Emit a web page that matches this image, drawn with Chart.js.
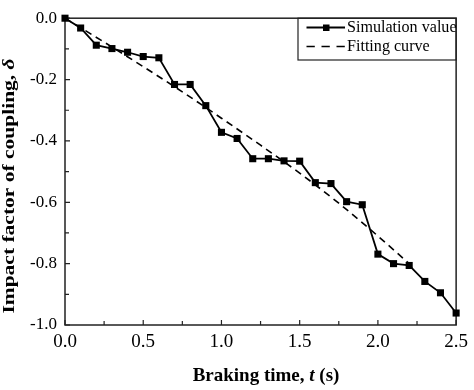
<!DOCTYPE html>
<html>
<head>
<meta charset="utf-8">
<script src="https://cdn.jsdelivr.net/npm/chart.js@4.4.0/dist/chart.umd.min.js"></script>
<style>
  html, body { margin: 0; padding: 0; background: #fff; }
  #wrap { width: 474px; height: 390px; }
</style>
</head>
<body>
<div id="wrap"><canvas id="chart"></canvas></div>
<script>
// braking time (s) and simulated impact factor
var brakingTime = [0, 0.1, 0.2, 0.3, 0.4, 0.5, 0.6, 0.7, 0.8, 0.9, 1.0, 1.1, 1.2,
                   1.3, 1.4, 1.5, 1.6, 1.7, 1.8, 1.9, 2.0, 2.1, 2.2, 2.3, 2.4, 2.5];
var simulationValue = [0, -0.032, -0.088, -0.099, -0.111, -0.125, -0.129, -0.216, -0.216,
                       -0.285, -0.372, -0.392, -0.458, -0.458, -0.465, -0.466, -0.536, -0.539,
                       -0.598, -0.608, -0.769, -0.800, -0.806, -0.858, -0.895, -0.961];

// dashed fitting curve
var fitTime = [0, 0.25, 0.5, 0.75, 1.0, 1.25, 1.5, 1.75, 2.0, 2.2];
var fitValue = [0, -0.078, -0.158, -0.240, -0.326, -0.414, -0.505, -0.603, -0.710, -0.800];

var xTicks = [0, 0.5, 1.0, 1.5, 2.0, 2.5];
var xMinor = [0.25, 0.75, 1.25, 1.75, 2.25];
var yTicks = [0, -0.2, -0.4, -0.6, -0.8, -1.0];
var yMinor = [-0.1, -0.3, -0.5, -0.7, -0.9];

var serif = "'Liberation Serif', 'Times New Roman', serif";

function toPoints(xs, ys) {
    return xs.map(function (x, i) { return { x: x, y: ys[i] }; });
}

// frame + inward ticks
var framePlugin = {
    id: 'frame',
    beforeDatasetsDraw: function (chart) {
        var ctx = chart.ctx, a = chart.chartArea;
        var xs = chart.scales.x, ys = chart.scales.y;
        ctx.save();
        ctx.strokeStyle = '#222';
        ctx.lineWidth = 1.5;
        ctx.strokeRect(a.left, a.top, a.right - a.left, a.bottom - a.top);
        ctx.lineWidth = 1.2;
        ctx.beginPath();
        xTicks.forEach(function (v) {
            var px = xs.getPixelForValue(v);
            ctx.moveTo(px, a.bottom); ctx.lineTo(px, a.bottom - 5);
        });
        xMinor.forEach(function (v) {
            var px = xs.getPixelForValue(v);
            ctx.moveTo(px, a.bottom); ctx.lineTo(px, a.bottom - 4);
        });
        yTicks.forEach(function (v) {
            var py = ys.getPixelForValue(v);
            ctx.moveTo(a.left, py); ctx.lineTo(a.left + 5, py);
        });
        yMinor.forEach(function (v) {
            var py = ys.getPixelForValue(v);
            ctx.moveTo(a.left, py); ctx.lineTo(a.left + 4, py);
        });
        ctx.stroke();
        ctx.restore();
    }
};

// write a run of text pieces, some in italic, centred on 0
function drawPieces(ctx, pieces, size) {
    var total = 0;
    pieces.forEach(function (p) {
        ctx.font = (p[1] ? 'italic ' : '') + 'bold ' + size + 'px ' + serif;
        total += ctx.measureText(p[0]).width;
    });
    var x = -total / 2;
    pieces.forEach(function (p) {
        ctx.font = (p[1] ? 'italic ' : '') + 'bold ' + size + 'px ' + serif;
        ctx.fillText(p[0], x, 0);
        x += ctx.measureText(p[0]).width;
    });
}

var titlePlugin = {
    id: 'titles',
    afterDraw: function (chart) {
        var ctx = chart.ctx;
        ctx.save();
        ctx.fillStyle = '#000';
        ctx.textAlign = 'left';
        ctx.textBaseline = 'middle';
        ctx.translate(266, 376);
        drawPieces(ctx, [['Braking time, ', false], ['t', true], [' (s)', false]], 19);
        ctx.restore();

        ctx.save();
        ctx.fillStyle = '#000';
        ctx.textAlign = 'left';
        ctx.textBaseline = 'middle';
        ctx.translate(10, 186);
        ctx.rotate(-Math.PI / 2);
        ctx.scale(1, 0.8);
        drawPieces(ctx, [['Impact factor of coupling, ', false], ['\u03b4', true]], 21.5);
        ctx.restore();
    }
};

// legend box in the upper right corner
var legendPlugin = {
    id: 'boxLegend',
    afterDraw: function (chart) {
        var ctx = chart.ctx, a = chart.chartArea;
        var left = 298, top = a.top, right = a.right, bottom = 60;
        ctx.save();
        ctx.strokeStyle = '#222';
        ctx.lineWidth = 1.2;
        ctx.strokeRect(left, top, right - left, bottom - top);

        ctx.strokeStyle = '#000';
        ctx.fillStyle = '#000';
        ctx.lineWidth = 1.8;
        ctx.beginPath();
        ctx.moveTo(306.5, 27.5); ctx.lineTo(345, 27.5);
        ctx.stroke();
        ctx.fillRect(323, 24.5, 6.5, 6.5);

        ctx.lineWidth = 1.6;
        ctx.setLineDash([8.3, 6.7]);
        ctx.beginPath();
        ctx.moveTo(306.5, 46.5); ctx.lineTo(345, 46.5);
        ctx.stroke();
        ctx.setLineDash([]);

        ctx.font = '17.5px ' + serif;
        ctx.textAlign = 'left';
        ctx.textBaseline = 'middle';
        ctx.translate(347, 0);
        ctx.scale(0.92, 1);
        ctx.fillText(chart.data.datasets[0].label, 0, 27.5);
        ctx.fillText(chart.data.datasets[1].label, 0, 46.5);
        ctx.restore();
    }
};

var ctx = document.getElementById('chart').getContext('2d');

var chart = new Chart(ctx, {
    type: 'line',
    data: {
        datasets: [
            {
                label: 'Simulation value',
                data: toPoints(brakingTime, simulationValue),
                borderColor: '#000',
                backgroundColor: '#000',
                borderWidth: 1.8,
                pointStyle: 'rect',
                pointRadius: 5,
                pointBorderWidth: 0,
                tension: 0,
                clip: false,
                order: 0
            },
            {
                label: 'Fitting curve',
                data: toPoints(fitTime, fitValue),
                borderColor: '#000',
                borderWidth: 1.6,
                borderDash: [7, 5],
                pointRadius: 0,
                cubicInterpolationMode: 'monotone',
                clip: false,
                order: 1
            }
        ]
    },
    options: {
        responsive: true,
        maintainAspectRatio: false,
        animation: false,
        layout: { padding: { top: 10, right: 13, left: 0, bottom: 0 } },
        plugins: {
            legend: { display: false },
            tooltip: { enabled: false }
        },
        scales: {
            x: {
                type: 'linear',
                min: 0,
                max: 2.5,
                grid: { display: false, drawTicks: false },
                border: { display: false },
                afterBuildTicks: function (s) { s.ticks = xTicks.map(function (v) { return { value: v }; }); },
                afterFit: function (s) { s.height = 65; },
                ticks: {
                    color: '#000',
                    padding: 6,
                    maxRotation: 0,
                    font: { family: serif, size: 19 },
                    callback: function (v) { return Number(v).toFixed(1); }
                }
            },
            y: {
                type: 'linear',
                min: -1.0,
                max: 0,
                grid: { display: false, drawTicks: false },
                border: { display: false },
                afterBuildTicks: function (s) { s.ticks = yTicks.map(function (v) { return { value: v }; }); },
                afterFit: function (s) { s.width = 65; },
                ticks: {
                    color: '#000',
                    padding: 8,
                    font: { family: serif, size: 17 },
                    callback: function (v) { return Number(v).toFixed(1); }
                }
            }
        }
    },
    plugins: [framePlugin, titlePlugin, legendPlugin]
});
</script>
</body>
</html>
